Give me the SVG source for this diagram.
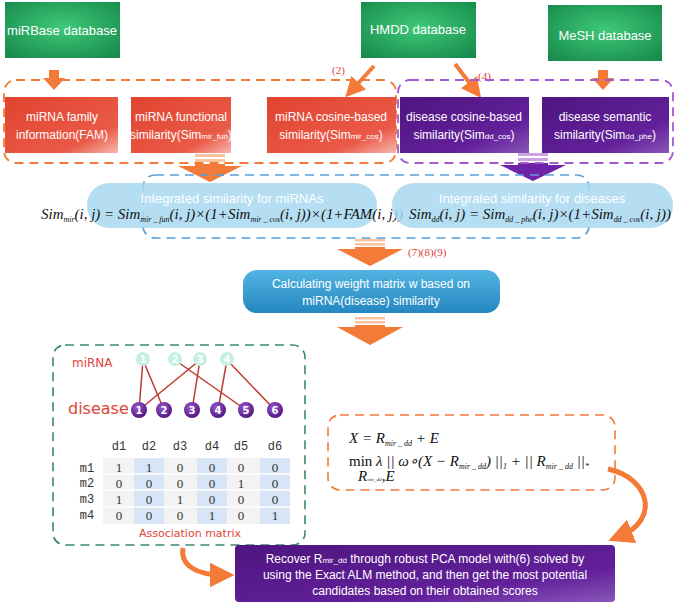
<svg xmlns="http://www.w3.org/2000/svg" width="675" height="604" viewBox="0 0 675 604">
<defs>
<radialGradient id="gG" cx="0.5" cy="0.45" r="0.7"><stop offset="0" stop-color="#3ec978"/><stop offset="1" stop-color="#178a4c"/></radialGradient>
<linearGradient id="gR" x1="0" y1="0" x2="1" y2="1"><stop offset="0" stop-color="#e0432f"/><stop offset="0.75" stop-color="#ea5a48"/><stop offset="1" stop-color="#f7b8ae"/></linearGradient>
<linearGradient id="gP" x1="0" y1="0" x2="1" y2="1"><stop offset="0" stop-color="#4f1580"/><stop offset="0.7" stop-color="#62209a"/><stop offset="1" stop-color="#8a55b8"/></linearGradient>
<linearGradient id="gB" x1="0" y1="0" x2="0" y2="1"><stop offset="0" stop-color="#52b4e3"/><stop offset="1" stop-color="#2487c0"/></linearGradient>
<radialGradient id="gD" cx="0.4" cy="0.35" r="0.7"><stop offset="0" stop-color="#9a5ad0"/><stop offset="1" stop-color="#4b137c"/></radialGradient>
<marker id="ah" markerWidth="5" markerHeight="5" refX="2.5" refY="2.5" orient="auto" markerUnits="strokeWidth"><path d="M0,0 L5,2.5 L0,5 z" fill="#f47a38"/></marker>
</defs>
<style>
.db{font-family:"Liberation Sans","DejaVu Sans",sans-serif;font-size:13px;fill:#fff;text-anchor:middle}
.bx{font-family:"Liberation Sans","DejaVu Sans",sans-serif;font-size:12px;fill:#fff;text-anchor:middle}
.sub{font-size:8px}
.f{font-family:"Liberation Serif",serif;font-style:italic;font-size:15px;fill:#111}
.fs{font-size:8px}
.red{font-family:"Liberation Serif",serif;font-size:11px;fill:#e0443a}
.tb{font-family:"Liberation Mono",monospace;font-size:12px;fill:#333;text-anchor:middle}
.tn{font-family:"Liberation Serif",serif;font-size:13px;fill:#333;text-anchor:middle}
.nd{font-family:"DejaVu Sans",sans-serif;font-size:10px;font-weight:bold;fill:#fff;text-anchor:middle}
</style>
<g id="connectors">
<path d="M49,70 h10 v8 h6 l-11,12 l-11,-12 h6 z" fill="#f47a38"/>
<path d="M598,70 h10 v8 h6 l-11,12 l-11,-12 h6 z" fill="#f47a38"/>
<line x1="374" y1="66" x2="352" y2="90" stroke="#f47a38" stroke-width="4" marker-end="url(#ah)"/>
<line x1="455" y1="64" x2="475" y2="90" stroke="#f47a38" stroke-width="4" marker-end="url(#ah)"/>
<text x="332" y="74" class="red">(2)</text>
<text x="478" y="80" class="red">(4)</text>
<rect x="195" y="154" width="30" height="3" fill="#f9c2a0"/><rect x="195" y="159" width="30" height="3" fill="#f9c2a0"/>
<path d="M195,164 h30 v2 h17 l-32,16 l-32,-16 h17 z" fill="#f47a38"/>
<rect x="518" y="153" width="30" height="3" fill="#c9a3e3"/><rect x="518" y="158" width="30" height="3" fill="#c9a3e3"/>
<path d="M518,163 h30 v2 h18 l-33,16 l-33,-16 h18 z" fill="#6d22a8"/>
<rect x="355" y="239" width="30" height="2.5" fill="#f9c2a0"/><rect x="355" y="243" width="30" height="2.5" fill="#f9c2a0"/>
<path d="M355,247 h30 v2 h18 l-33,17 l-33,-17 h18 z" fill="#f47a38"/>
<text x="408" y="256" class="red">(7)(8)(9)</text>
<rect x="355" y="317" width="30" height="2.5" fill="#f9c2a0"/><rect x="355" y="321" width="30" height="2.5" fill="#f9c2a0"/>
<path d="M355,325 h30 v2 h18 l-33,18 l-33,-18 h18 z" fill="#f47a38"/>
<path d="M608,469 C650,478 660,520 620,536" fill="none" stroke="#f47a38" stroke-width="5" marker-end="url(#ah)"/>
<path d="M183,548 C180,566 198,575 222,575" fill="none" stroke="#f47a38" stroke-width="5" marker-end="url(#ah)"/>
</g>
<rect x="4" y="80" width="392" height="83" rx="12" fill="none" stroke="#f47a38" stroke-width="1.8" stroke-dasharray="9,6"/>
<rect x="398" y="80" width="275" height="83" rx="12" fill="none" stroke="#a25ad0" stroke-width="1.8" stroke-dasharray="9,6"/>
<rect x="143" y="175" width="446" height="63" rx="12" fill="none" stroke="#5b9fd6" stroke-width="1.6" stroke-dasharray="9,6"/>
<g id="miRBase"><rect x="5" y="2" width="115" height="56" fill="url(#gG)"/><text x="62" y="35" class="db">miRBase database</text></g>
<g id="HMDD"><rect x="361" y="2" width="115" height="56" fill="url(#gG)"/><text x="418" y="34" class="db">HMDD database</text></g>
<g id="MeSH"><rect x="548" y="5" width="114" height="56" fill="url(#gG)"/><text x="605" y="40" class="db">MeSH database</text></g>
<g id="fam"><rect x="5" y="97" width="113" height="56" fill="url(#gR)"/><text class="bx"><tspan x="62" y="121">miRNA family</tspan><tspan x="62" y="139">information(FAM)</tspan></text></g>
<g id="fun"><rect x="131" y="97" width="100" height="56" fill="url(#gR)"/><text class="bx"><tspan x="181" y="121">miRNA functional</tspan><tspan x="181" y="139">similarity(Sim<tspan class="sub" font-size="6">mir_fun</tspan>)</tspan></text></g>
<g id="mcos"><rect x="267" y="97" width="129" height="56" fill="url(#gR)"/><text class="bx"><tspan x="331" y="121">miRNA cosine-based</tspan><tspan x="331" y="139">similarity(Sim<tspan class="sub">mir_cos</tspan>)</tspan></text></g>
<g id="dcos"><rect x="400" y="97" width="129" height="56" fill="url(#gP)"/><text class="bx"><tspan x="464" y="121">disease cosine-based</tspan><tspan x="464" y="139">similarity(Sim<tspan class="sub">dd_cos</tspan>)</tspan></text></g>
<g id="dphe"><rect x="542" y="97" width="127" height="56" fill="url(#gP)"/><text class="bx"><tspan x="605" y="121">disease semantic</tspan><tspan x="605" y="139">similarity(Sim<tspan class="sub">dd_phe</tspan>)</tspan></text></g>
<g id="intMir"><rect x="87" y="183" width="290" height="45" rx="22" fill="#a9d8f0" opacity="0.85"/><text x="232" y="203" class="db" font-size="14">Integrated similarity for miRNAs</text>
<text x="41" y="219" class="f" textLength="362" lengthAdjust="spacingAndGlyphs">Sim<tspan class="fs" dy="3">mir</tspan><tspan dy="-3">(i, j) = Sim</tspan><tspan class="fs" dy="3">mir _ fun</tspan><tspan dy="-3">(i, j)×(1+Sim</tspan><tspan class="fs" dy="3">mir _ cos</tspan><tspan dy="-3">(i, j))×(1+FAM(i, j))</tspan></text></g>
<g id="intDis"><rect x="392" y="183" width="281" height="45" rx="22" fill="#a9d8f0" opacity="0.85"/><text x="532" y="203" class="db" font-size="14">Integrated similarity for diseases</text>
<text x="409" y="219" class="f" textLength="262" lengthAdjust="spacingAndGlyphs">Sim<tspan class="fs" dy="3">dd</tspan><tspan dy="-3">(i, j) = Sim</tspan><tspan class="fs" dy="3">dd _ phe</tspan><tspan dy="-3">(i, j)×(1+Sim</tspan><tspan class="fs" dy="3">dd _ cos</tspan><tspan dy="-3">(i, j))</tspan></text></g>
<g id="weight"><rect x="243" y="270" width="257" height="43" rx="14" fill="url(#gB)"/><text class="bx" font-size="13"><tspan x="371" y="288">Calculating weight matrix w based on</tspan><tspan x="371" y="305">miRNA(disease) similarity</tspan></text></g>
<g id="assoc">
<rect x="53" y="345" width="252" height="200" rx="12" fill="none" stroke="#3a8a68" stroke-width="1.6" stroke-dasharray="9,6"/>
<text x="72" y="367" font-family="DejaVu Sans,sans-serif" font-size="12" fill="#e0443a">miRNA</text>
<text x="68" y="414" font-family="DejaVu Sans,sans-serif" font-size="16" fill="#e0443a">disease</text>
<g stroke="#c0392b" stroke-width="1.5">
<line x1="143" y1="360" x2="139" y2="410"/><line x1="143" y1="360" x2="164" y2="410"/>
<line x1="200" y1="360" x2="139" y2="410"/><line x1="200" y1="360" x2="192" y2="410"/>
<line x1="175" y1="360" x2="246" y2="410"/>
<line x1="227" y1="360" x2="218" y2="410"/><line x1="227" y1="360" x2="275" y2="410"/>
</g>
<g fill="#c4efe2"><circle cx="143" cy="359" r="7"/><circle cx="175" cy="359" r="7"/><circle cx="200" cy="359" r="7"/><circle cx="227" cy="359" r="7"/></g>
<g class="nd"><text x="143" y="363">1</text><text x="175" y="363">2</text><text x="200" y="363">3</text><text x="227" y="363">4</text></g>
<g fill="url(#gD)"><circle cx="139" cy="410" r="8"/><circle cx="164" cy="410" r="8"/><circle cx="192" cy="410" r="8"/><circle cx="218" cy="410" r="8"/><circle cx="246" cy="410" r="8"/><circle cx="275" cy="410" r="8"/></g>
<g class="nd"><text x="139" y="414">1</text><text x="164" y="414">2</text><text x="192" y="414">3</text><text x="218" y="414">4</text><text x="246" y="414">5</text><text x="275" y="414">6</text></g>
<rect x="103" y="458" width="187" height="66" fill="#f3f3f3"/>
<g fill="#d7e5f7"><rect x="134" y="458" width="30" height="66"/><rect x="197" y="458" width="30" height="66"/><rect x="260" y="458" width="30" height="66"/></g>
<g stroke="#fff" stroke-width="1.5"><line x1="103" y1="474" x2="290" y2="474"/><line x1="103" y1="490" x2="290" y2="490"/><line x1="103" y1="507" x2="290" y2="507"/></g>
<g class="tb"><text x="119" y="450">d1</text><text x="149" y="450">d2</text><text x="180" y="450">d3</text><text x="212" y="450">d4</text><text x="241" y="450">d5</text><text x="275" y="450">d6</text>
<text x="87" y="472">m1</text><text x="87" y="487">m2</text><text x="87" y="503">m3</text><text x="87" y="519">m4</text></g>
<g class="tn">
<text x="119" y="472">1</text><text x="149" y="472">1</text><text x="180" y="472">0</text><text x="212" y="472">0</text><text x="241" y="472">0</text><text x="275" y="472">0</text>
<text x="119" y="488">0</text><text x="149" y="488">0</text><text x="180" y="488">0</text><text x="212" y="488">0</text><text x="241" y="488">1</text><text x="275" y="488">0</text>
<text x="119" y="504">1</text><text x="149" y="504">0</text><text x="180" y="504">1</text><text x="212" y="504">0</text><text x="241" y="504">0</text><text x="275" y="504">0</text>
<text x="119" y="520">0</text><text x="149" y="520">0</text><text x="180" y="520">0</text><text x="212" y="520">1</text><text x="241" y="520">0</text><text x="275" y="520">1</text>
</g>
<text x="190" y="537" font-family="DejaVu Sans,sans-serif" font-size="11" fill="#e0443a" text-anchor="middle">Association matrix</text>
</g>
<g id="rpca">
<rect x="328" y="415" width="287" height="75" rx="12" fill="none" stroke="#f47a38" stroke-width="1.6" stroke-dasharray="9,6"/>
<text x="349" y="443" class="f">X = R<tspan class="fs" dy="3">mir _ dd</tspan><tspan dy="-3"> + E</tspan></text>
<text x="349" y="466" class="f"><tspan font-style="normal">min </tspan>λ || ω∘(X − R<tspan class="fs" dy="3">mir _ dd</tspan><tspan dy="-3">) ||</tspan><tspan class="fs" dy="3">1</tspan><tspan dy="-3"> + || R</tspan><tspan class="fs" dy="3">mir _ dd</tspan><tspan dy="-3"> ||</tspan><tspan class="fs" dy="3">*</tspan></text>
<text x="358" y="481" class="f" font-size="7">R<tspan font-size="5">mir_dd</tspan>,E</text>
</g>
<g id="recover"><rect x="235" y="545" width="380" height="57" rx="4" fill="url(#gP)"/><text class="bx" font-size="12.5"><tspan x="425" y="563">Recover R<tspan class="sub">mir_dd</tspan> through robust PCA model with(6) solved by</tspan><tspan x="425" y="579">using the Exact ALM method, and then get the most potential</tspan><tspan x="425" y="595">candidates based on their obtained scores</tspan></text></g>
</svg>
